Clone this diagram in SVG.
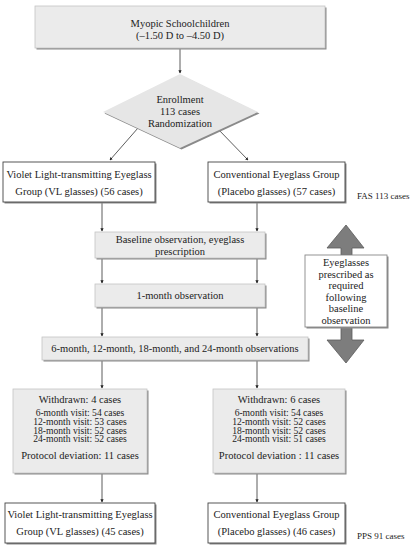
<svg xmlns="http://www.w3.org/2000/svg" width="414" height="550" viewBox="0 0 414 550">
<defs>
<style>
text{font-family:"Liberation Serif","DejaVu Serif",serif;font-size:10.5px;fill:#222;text-anchor:middle}
.g{fill:#ebebeb;stroke:#c4c4c4;stroke-width:0.8}
.w{fill:#fff;stroke:#444;stroke-width:0.9}
.sh{fill:#8a8a8a}
.c{stroke:#333;stroke-width:0.8;fill:none;marker-end:url(#ah)}
.big{fill:#7d7d7d;stroke:#5a5a5a;stroke-width:0.8}
.v{font-size:9.6px}
</style>
<marker id="ah" viewBox="0 0 6 6" refX="5" refY="3" markerWidth="4" markerHeight="4" orient="auto"><path d="M0,0L6,3L0,6z" fill="#222"/></marker>
</defs>
<g id="connectors">
<line class="c" x1="180" y1="48" x2="180" y2="73"/>
<line class="c" x1="138" y1="128" x2="110" y2="160"/>
<line class="c" x1="217" y1="128" x2="248" y2="160"/>
<line class="c" x1="102" y1="202" x2="102" y2="231"/>
<line class="c" x1="257" y1="202" x2="257" y2="231"/>
<line class="c" x1="102" y1="258" x2="102" y2="283"/>
<line class="c" x1="257" y1="258" x2="257" y2="283"/>
<line class="c" x1="102" y1="307" x2="102" y2="336"/>
<line class="c" x1="257" y1="307" x2="257" y2="336"/>
<line class="c" x1="102" y1="360" x2="102" y2="388"/>
<line class="c" x1="257" y1="360" x2="257" y2="388"/>
<line class="c" x1="102" y1="473" x2="102" y2="502"/>
<line class="c" x1="257" y1="473" x2="257" y2="502"/>
</g>
<g id="top">
<rect class="sh" x="36.5" y="7.5" width="290" height="42"/>
<rect class="g" x="35" y="6" width="290" height="42"/>
<text x="180" y="27">Myopic Schoolchildren</text>
<text x="180" y="39">(–1.50 D to –4.50 D)</text>
</g>
<g id="enroll">
<path class="sh" d="M181.5,75.5L259.5,113.5L181.5,149.5L104.5,113.5z"/>
<path d="M180,74L258,112L180,148L103,112z" fill="#e6e6e6"/>
<text x="180" y="103">Enrollment</text>
<text x="180" y="115">113 cases</text>
<text x="180" y="127">Randomization</text>
</g>
<g id="vl1">
<rect class="sh" x="4.5" y="163.5" width="152" height="40"/>
<rect class="w" x="3" y="162" width="152" height="40"/>
<text x="79" y="178">Violet Light-transmitting Eyeglass</text>
<text x="79" y="195">Group (VL glasses) (56 cases)</text>
</g>
<g id="cv1">
<rect class="sh" x="209.5" y="163.5" width="137" height="40"/>
<rect class="w" x="208" y="162" width="137" height="40"/>
<text x="276.5" y="178">Conventional Eyeglass Group</text>
<text x="276.5" y="195">(Placebo glasses) (57 cases)</text>
</g>
<text x="357" y="199" style="text-anchor:start;font-size:9px">FAS 113 cases</text>
<g id="baseline">
<rect class="sh" x="96.5" y="233.5" width="170" height="26"/>
<rect class="g" x="95" y="232" width="170" height="26"/>
<text x="180" y="243">Baseline observation, eyeglass</text>
<text x="180" y="255">prescription</text>
</g>
<g id="m1">
<rect class="sh" x="96.5" y="285.5" width="170" height="23"/>
<rect class="g" x="95" y="284" width="170" height="23"/>
<text x="180" y="299">1-month observation</text>
</g>
<g id="m6">
<rect class="sh" x="43.5" y="338.5" width="266" height="23"/>
<rect class="g" x="42" y="337" width="266" height="23"/>
<text x="175" y="352">6-month, 12-month, 18-month, and 24-month observations</text>
</g>
<g id="arrowside">
<path class="big" d="M346,225L364,248L352,248L352,255L341,255L341,248L327,248z"/>
<path class="big" d="M341,327L352,327L352,340L364,340L346,363L327,340L341,340z"/>
<rect class="sh" x="306.5" y="256.5" width="82" height="72"/>
<rect class="w" x="305" y="255" width="82" height="72" style="stroke:#888"/>
<text x="346" y="266">Eyeglasses</text>
<text x="346" y="277.5">prescribed as</text>
<text x="346" y="289">required</text>
<text x="346" y="300.5">following</text>
<text x="346" y="312">baseline</text>
<text x="346" y="323.5">observation</text>
</g>
<g id="wl">
<rect class="sh" x="14.5" y="390.5" width="134" height="84"/>
<rect class="g" x="13" y="389" width="134" height="84"/>
<text x="80" y="403">Withdrawn: 4 cases</text>
<text class="v" x="80" y="416">6-month visit: 54 cases</text>
<text class="v" x="80" y="424.8">12-month visit: 53 cases</text>
<text class="v" x="80" y="433.6">18-month visit: 52 cases</text>
<text class="v" x="80" y="442.4">24-month visit: 52 cases</text>
<text x="80" y="459">Protocol deviation: 11 cases</text>
</g>
<g id="wr">
<rect class="sh" x="214.5" y="390.5" width="132" height="84"/>
<rect class="g" x="213" y="389" width="132" height="84"/>
<text x="279" y="403">Withdrawn: 6 cases</text>
<text class="v" x="279" y="416">6-month visit: 54 cases</text>
<text class="v" x="279" y="424.8">12-month visit: 52 cases</text>
<text class="v" x="279" y="433.6">18-month visit: 52 cases</text>
<text class="v" x="279" y="442.4">24-month visit: 51 cases</text>
<text x="279" y="459">Protocol deviation : 11 cases</text>
</g>
<g id="vl2">
<rect class="sh" x="6.5" y="504.5" width="150" height="40"/>
<rect class="w" x="5" y="503" width="150" height="40"/>
<text x="80" y="518">Violet Light-transmitting Eyeglass</text>
<text x="80" y="535">Group (VL glasses) (45 cases)</text>
</g>
<g id="cv2">
<rect class="sh" x="209.5" y="504.5" width="137" height="40"/>
<rect class="w" x="208" y="503" width="137" height="40"/>
<text x="276.5" y="518">Conventional Eyeglass Group</text>
<text x="276.5" y="535">(Placebo glasses) (46 cases)</text>
</g>
<text x="357" y="539" style="text-anchor:start;font-size:9px">PPS 91 cases</text>
</svg>
